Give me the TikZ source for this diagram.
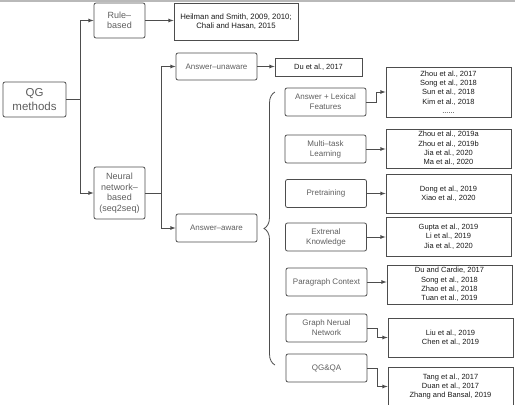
\documentclass[tikz,border=0pt]{standalone}
\usepackage{fontspec}
\setmainfont{Liberation Sans}
\usetikzlibrary{decorations.pathreplacing}
\definecolor{linegray}{HTML}{4D4D4D}
\definecolor{labelgray}{HTML}{5E5E5E}
\definecolor{citegray}{HTML}{1A1A1A}

\begin{document}
\begin{tikzpicture}[>=latex,x=1pt,y=-1pt,
	every node/.style={align=center,inner sep=0pt},
	method/.style={draw=linegray,line width=.8pt,rounded corners=2pt,text=labelgray,font=\fontsize{9}{10.5}\selectfont,minimum width=51pt},
	category/.style={draw=linegray,line width=.8pt,rounded corners=2pt,text=labelgray,font=\fontsize{8}{10}\selectfont,minimum width=81pt,minimum height=28pt},
	cites/.style={draw=linegray,line width=.8pt,text=citegray,font=\fontsize{7.5}{9.3}\selectfont,minimum width=125pt,minimum height=39pt},
	link/.style={->,line width=.8pt,draw=linegray}]
		\useasboundingbox (0,0) rectangle (515,405);
		\draw[gray!55,line width=1.5pt] (0,0.75) -- (515,0.75);

		% methods
		\node[method,minimum width=63pt,minimum height=35pt,font=\fontsize{11.5}{14}\selectfont] (qg) at (34.5,99.5) {QG\\methods};
		\node[method,minimum height=35pt] (rule) at (119.5,20.5) {Rule–\\based};
		\node[method,minimum height=52pt] (neural) at (119.5,193) {Neural\\network–\\based\\(seq2seq)};
		\node[cites,minimum width=124pt,minimum height=37pt,font=\fontsize{7.8}{8.5}\selectfont] (heilman) at (236,21.5) {Heilman and Smith, 2009, 2010;\\Chali and Hasan, 2015};
		\node[category,minimum height=27pt] (unaware) at (216.5,66.5) {Answer–unaware};
		\node[category] (aware) at (216.5,228) {Answer–aware};
		\node[cites,minimum width=87pt,minimum height=18pt] (du) at (318.5,67) {Du et al., 2017};

		\draw[link] (qg.east) -- ++(14,0) |- (rule.west);
		\draw[link] (qg.east) -- ++(14,0) |- (neural.west);
		\draw[link] (rule.east) -- (rule.east -| heilman.west);
		\draw[link] (neural.east) -- ++(16,0) |- (unaware.west);
		\draw[link] (neural.east) -- ++(16,0) |- (aware.west);
		\draw[link] (unaware.east) -- (unaware.east -| du.west);

		% answer-aware branches
		\draw[decorate,decoration={brace,amplitude=11pt},line width=.8pt,linegray] (275,365) -- (275,92);

		\node[category] (lexical) at (325.5,102) {Answer + Lexical\\Features};
		\node[category] (multitask) at (325.5,149) {Multi–task\\Learning};
		\node[category] (pretrain) at (326,193.5) {Pretraining};
		\node[category] (knowledge) at (326,237) {Extrenal\\Knowledge};
		\node[category] (paragraph) at (326.5,282) {Paragraph Context};
		\node[category] (graph) at (326.5,328) {Graph Nerual\\Network};
		\node[category] (qgqa) at (326.5,368) {QG\&QA};

		\node[cites,minimum height=50pt] (lexcite) at (448.5,92) {Zhou et al., 2017\\Song et al., 2018\\Sun et al., 2018\\Kim et al., 2018\\......};
		\node[cites] (mtlcite) at (448.5,148.5) {Zhou et al., 2019a\\Zhou et al., 2019b\\Jia et al., 2020\\Ma et al., 2020};
		\node[cites] (precite) at (448.5,193.5) {Dong et al., 2019\\Xiao et al., 2020};
		\node[cites] (kncite) at (448.5,236.5) {Gupta et al., 2019\\Li et al., 2019\\Jia et al., 2020};
		\node[cites] (parcite) at (449.5,284.5) {Du and Cardie, 2017\\Song et al., 2018\\Zhao et al., 2018\\Tuan et al., 2019};
		\node[cites] (gnncite) at (450.5,337.5) {Liu et al., 2019\\Chen et al., 2019};
		\node[cites] (qacite) at (450.5,386.5) {Tang et al., 2017\\Duan et al., 2017\\Zhang and Bansal, 2019};

		\draw[link] (lexical.east) -- ++(10,0) |- (lexcite.west);
		\draw[link] (multitask.east) -- (multitask.east -| mtlcite.west);
		\draw[link] (pretrain.east) -- (pretrain.east -| precite.west);
		\draw[link] (knowledge.east) -- (knowledge.east -| kncite.west);
		\draw[link] (paragraph.east) -- (paragraph.east -| parcite.west);
		\draw[link] (graph.east) -- ++(10,0) |- (gnncite.west);
		\draw[link] (qgqa.east) -- ++(10,0) |- (qacite.west);

	\end{tikzpicture}
\end{document}
